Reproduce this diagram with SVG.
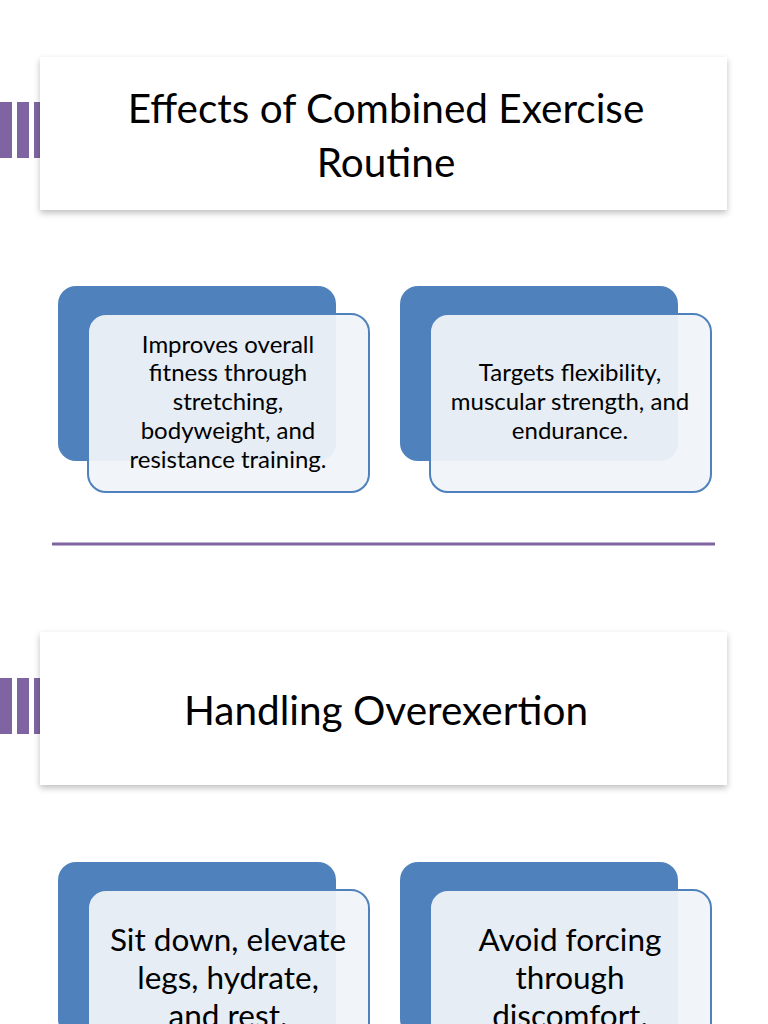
<svg xmlns="http://www.w3.org/2000/svg" width="768" height="1024" viewBox="0 0 768 1024">
<defs>
<filter id="sh" x="-5%" y="-10%" width="110%" height="130%"><feDropShadow dx="0" dy="3" stdDeviation="3" flood-color="#000" flood-opacity="0.25"/></filter>
<style>
.bar{fill:#8064a2}
.back{fill:#4f81bd}
.front{fill:#f0f3f9;fill-opacity:0.94;stroke:#4f81bd;stroke-width:2}
.title{font-family:Lato,"Open Sans",sans-serif;font-size:40.5px;fill:#000;text-anchor:middle}
.t{font-family:Lato,"Open Sans",sans-serif;font-size:24px;fill:#000;text-anchor:middle}
.tb{font-family:Lato,"Open Sans",sans-serif;font-size:31.5px;fill:#000;text-anchor:middle}
</style>
</defs>
<rect width="768" height="1024" fill="#fff"/>
<g id="title1">
<rect class="bar" x="0" y="102" width="12" height="56"/><rect class="bar" x="17" y="102" width="12" height="56"/><rect class="bar" x="34" y="102" width="7" height="56"/>
<rect x="40" y="57" width="687" height="153" fill="#fff" filter="url(#sh)"/>
<text class="title" x="386" y="123">Effects of Combined Exercise</text>
<text class="title" x="386" y="177">Routine</text>
</g>
<g id="card1">
<rect class="back" x="58" y="286" width="278" height="175" rx="18"/>
<rect class="front" x="88" y="314" width="281" height="178" rx="18"/>
<text class="t" x="228" y="353">Improves overall</text>
<text class="t" x="228" y="381">fitness through</text>
<text class="t" x="228" y="410">stretching,</text>
<text class="t" x="228" y="439">bodyweight, and</text>
<text class="t" x="228" y="468">resistance training.</text>
</g>
<g id="card2">
<rect class="back" x="400" y="286" width="278" height="175" rx="18"/>
<rect class="front" x="430" y="314" width="281" height="178" rx="18"/>
<text class="t" x="570" y="381">Targets flexibility,</text>
<text class="t" x="570" y="410">muscular strength, and</text>
<text class="t" x="570" y="439">endurance.</text>
</g>
<g id="connectors">
<line x1="52" y1="544" x2="715" y2="544" stroke="#8064a2" stroke-width="3"/>
</g>
<g id="title2">
<rect class="bar" x="0" y="678" width="12" height="56"/><rect class="bar" x="17" y="678" width="12" height="56"/><rect class="bar" x="34" y="678" width="7" height="56"/>
<rect x="40" y="632" width="687" height="153" fill="#fff" filter="url(#sh)"/>
<text class="title" x="386" y="725">Handling Overexertion</text>
</g>
<g id="card3">
<rect class="back" x="58" y="862" width="278" height="175" rx="18"/>
<rect class="front" x="88" y="890" width="281" height="178" rx="18"/>
<text class="tb" x="228" y="951">Sit down, elevate</text>
<text class="tb" x="228" y="989">legs, hydrate,</text>
<text class="tb" x="228" y="1027">and rest.</text>
</g>
<g id="card4">
<rect class="back" x="400" y="862" width="278" height="175" rx="18"/>
<rect class="front" x="430" y="890" width="281" height="178" rx="18"/>
<text class="tb" x="570" y="951">Avoid forcing</text>
<text class="tb" x="570" y="989">through</text>
<text class="tb" x="570" y="1027">discomfort.</text>
</g>
</svg>
